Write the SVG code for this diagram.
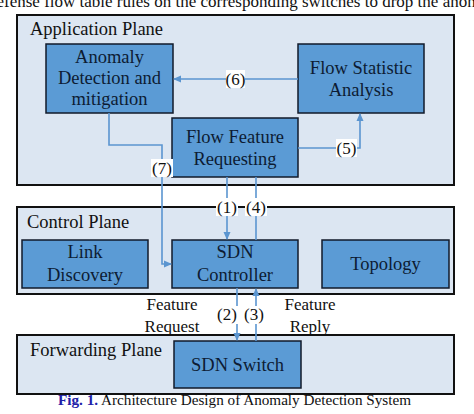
<svg xmlns="http://www.w3.org/2000/svg" width="474" height="414" viewBox="0 0 474 414">
<defs>
<marker id="ah" markerWidth="8" markerHeight="8" refX="7" refY="4" orient="auto" markerUnits="userSpaceOnUse">
<path d="M0,0.5 L8,4 L0,7.5 Z" fill="#5b95d0"/>
</marker>
<style>
text{font-family:'Liberation Serif',serif}
.plane{fill:#dce6f2;stroke:#111;stroke-width:2}
.box{fill:#5b9bd5;stroke:#111a2a;stroke-width:1.5}
.t{font-size:18.5px;fill:#0d1b33;text-anchor:middle}
.pl{font-size:18.5px;fill:#111}
.c{fill:none;stroke:#5b95d0;stroke-width:1.6}
.lb{font-size:17px;fill:#111;text-anchor:middle}
.wb{fill:#fff}
</style>
</defs>
<rect width="474" height="414" fill="#fff"/>
<text x="-12" y="7" font-size="17" fill="#111">defense flow table rules on the corresponding switches to drop the anomalous</text>

<g id="application-plane">
<rect class="plane" x="17" y="15" width="437" height="170"/>
<text class="pl" x="30" y="35">Application Plane</text>
</g>
<g id="control-plane">
<rect class="plane" x="17" y="207" width="437" height="87"/>
<text class="pl" x="27" y="228">Control Plane</text>
</g>
<g id="forwarding-plane">
<rect class="plane" x="17" y="335" width="437" height="59"/>
<text class="pl" x="30" y="356">Forwarding Plane</text>
</g>

<g id="anomaly-detection">
<rect class="box" x="46" y="44" width="127" height="69"/>
<text class="t" x="109.5" y="63">Anomaly</text>
<text class="t" x="109.5" y="84">Detection and</text>
<text class="t" x="109.5" y="105">mitigation</text>
</g>
<g id="flow-statistic">
<rect class="box" x="298" y="44" width="126" height="69"/>
<text class="t" x="361" y="74">Flow Statistic</text>
<text class="t" x="361" y="96">Analysis</text>
</g>
<g id="flow-feature">
<rect class="box" x="172" y="118" width="126" height="59"/>
<text class="t" x="235" y="143">Flow Feature</text>
<text class="t" x="235" y="165">Requesting</text>
</g>
<g id="link-discovery">
<rect class="box" x="22" y="240" width="126" height="48"/>
<text class="t" x="85" y="258">Link</text>
<text class="t" x="85" y="281">Discovery</text>
</g>
<g id="sdn-controller">
<rect class="box" x="172" y="240" width="126" height="48"/>
<text class="t" x="235" y="258">SDN</text>
<text class="t" x="235" y="281">Controller</text>
</g>
<g id="topology">
<rect class="box" x="322" y="240" width="127" height="48"/>
<text class="t" x="385.5" y="270">Topology</text>
</g>
<g id="sdn-switch">
<rect class="box" x="174" y="341" width="127" height="47"/>
<text class="t" x="237.5" y="371">SDN Switch</text>
</g>

<g id="connectors">
<path class="c" d="M298,79 H174" marker-end="url(#ah)"/>
<path class="c" d="M298,148 H360 V114" marker-end="url(#ah)"/>
<path class="c" d="M109,113 V145 H162 V264 H171" marker-end="url(#ah)"/>
<path class="c" d="M227,177 V239" marker-end="url(#ah)"/>
<path class="c" d="M256,240 V177"/>
<path class="c" d="M237,288 V340" marker-end="url(#ah)"/>
<path class="c" d="M256,341 V289" marker-end="url(#ah)"/>

<rect class="wb" x="226" y="70" width="19" height="18"/>
<text class="lb" x="235.5" y="85">(6)</text>
<rect class="wb" x="336" y="139" width="21" height="18"/>
<text class="lb" x="346.5" y="154">(5)</text>
<rect class="wb" x="151" y="159" width="22" height="18"/>
<text class="lb" x="162" y="174">(7)</text>
<rect class="wb" x="216" y="198" width="22" height="18"/>
<text class="lb" x="227" y="213">(1)</text>
<rect class="wb" x="245" y="198" width="22" height="18"/>
<text class="lb" x="256" y="213">(4)</text>
<rect class="wb" x="216" y="306" width="22" height="18"/>
<text class="lb" x="227" y="320">(2)</text>
<rect class="wb" x="243" y="306" width="22" height="18"/>
<text class="lb" x="254" y="320">(3)</text>
<text class="lb" x="172" y="310">Feature</text>
<text class="lb" x="172" y="332">Request</text>
<text class="lb" x="310" y="310">Feature</text>
<text class="lb" x="310" y="332">Reply</text>
</g>

<text x="58" y="405" font-size="15.2" fill="#111"><tspan font-weight="bold" fill="#2020a8">Fig. 1.</tspan> Architecture Design of Anomaly Detection System</text>
</svg>
